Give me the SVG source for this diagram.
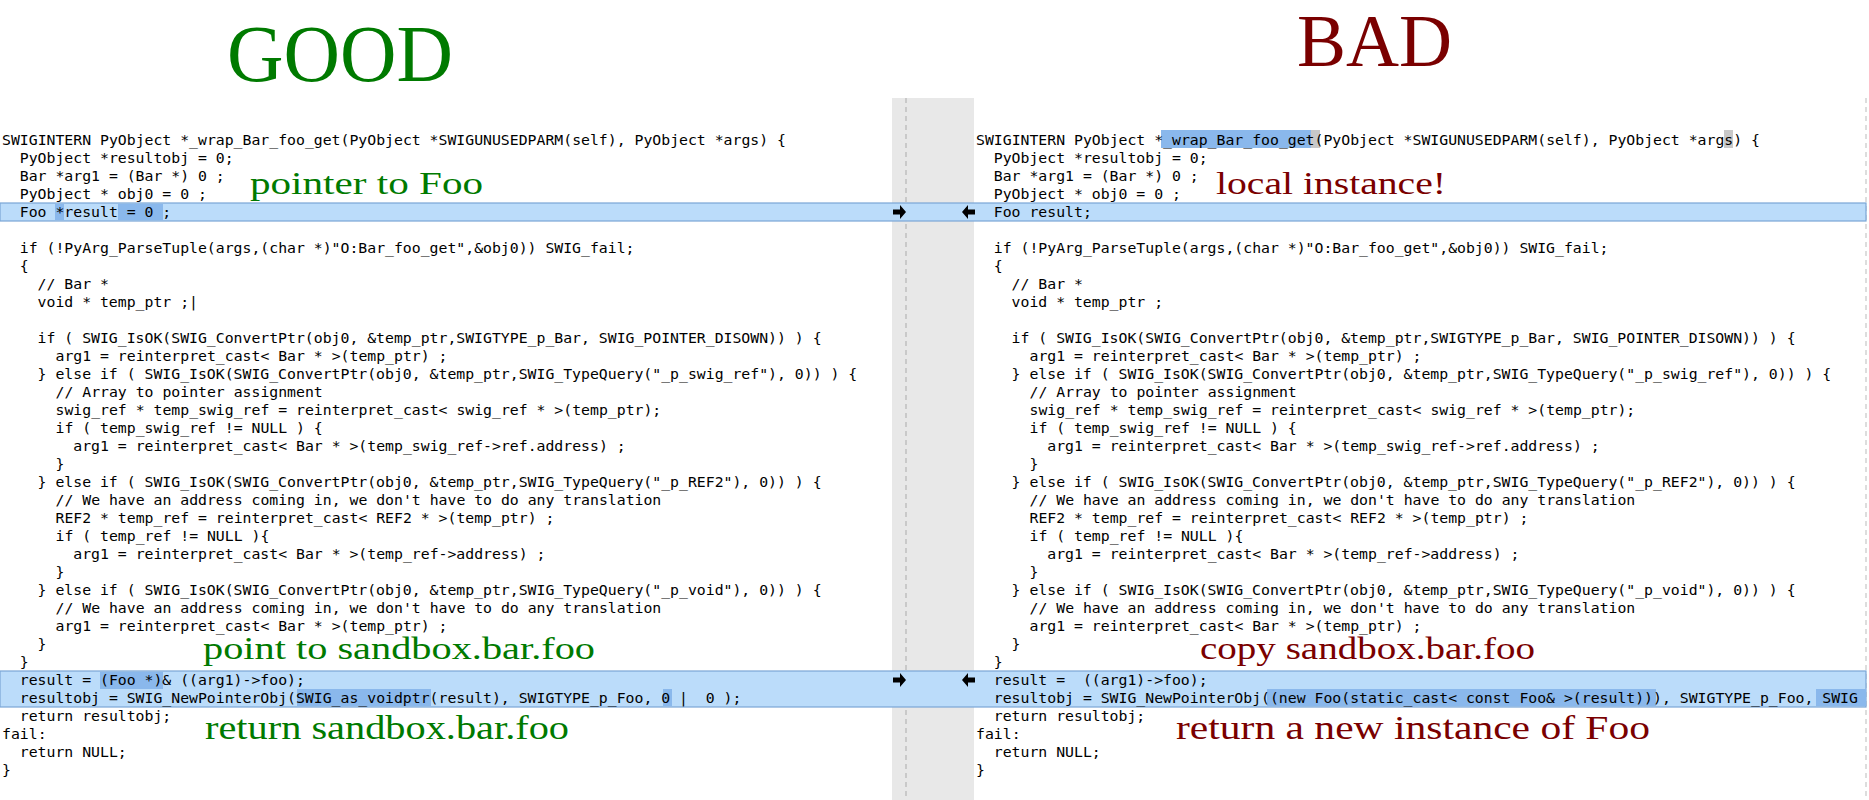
<svg xmlns="http://www.w3.org/2000/svg" width="1869" height="800" viewBox="0 0 1869 800">
<style>
.c{font-family:"DejaVu Sans Mono",monospace;font-size:14.8px;fill:#000}
.g{font-family:"Liberation Serif",serif;fill:#007a00}
.r{font-family:"Liberation Serif",serif;fill:#7a0000}
.band{fill:#bbdcfa;stroke:#7aa6d6;stroke-width:1.2}
.hl{fill:#8ab8ec}
.gr{fill:#c8c8c8}
</style>
<defs><clipPath id="cp"><rect x="974" y="0" width="891" height="800"/></clipPath>
<path id="ar" d="M0,-2.5 H7 V-7 L13,0 L7,7 V2.5 H0 Z" fill="#000"/></defs>
<rect width="1869" height="800" fill="#fff"/>
<rect x="892" y="98" width="82" height="702" fill="#e8e8e8"/>
<line x1="906" y1="98" x2="906" y2="800" stroke="#aaa" stroke-dasharray="5,4"/>
<line x1="1866" y1="98" x2="1866" y2="800" stroke="#bbb" stroke-dasharray="5,4"/>
<rect class="band" x="0" y="203" width="1866" height="18"/>
<rect class="band" x="0" y="671" width="1866" height="36"/>
<g id="highlights">
<rect class="hl" x="55" y="204" width="9" height="16"/>
<rect class="hl" x="118" y="204" width="45" height="16"/>
<rect class="hl" x="100" y="672" width="63" height="17"/>
<rect class="hl" x="297" y="689" width="134" height="17"/>
<rect class="hl" x="663" y="689" width="9" height="17"/>
<rect class="hl" x="1161" y="130" width="150" height="18"/>
<rect class="gr" x="1311" y="130" width="9" height="18"/>
<rect class="gr" x="1724" y="130" width="9" height="18"/>
<rect class="hl" x="1267" y="689" width="389" height="17"/>
<rect class="hl" x="1816" y="689" width="50" height="17"/>
</g>
<g id="connectors">
<use href="#ar" x="893" y="212"/><use href="#ar" transform="translate(975,212) scale(-1,1)"/>
<use href="#ar" x="893" y="680"/><use href="#ar" transform="translate(975,680) scale(-1,1)"/>
</g>
<g id="left-code" class="c">
<text x="2" y="145">SWIGINTERN PyObject *_wrap_Bar_foo_get(PyObject *SWIGUNUSEDPARM(self), PyObject *args) {</text>
<text x="19.8" y="163">PyObject *resultobj = 0;</text>
<text x="19.8" y="181">Bar *arg1 = (Bar *) 0 ;</text>
<text x="19.8" y="199">PyObject * obj0 = 0 ;</text>
<text x="19.8" y="217">Foo *result = 0 ;</text>
<text x="19.8" y="253">if (!PyArg_ParseTuple(args,(char *)"O:Bar_foo_get",&amp;obj0)) SWIG_fail;</text>
<text x="19.8" y="271">{</text>
<text x="37.6" y="289">// Bar *</text>
<text x="37.6" y="307">void * temp_ptr ;|</text>
<text x="37.6" y="343">if ( SWIG_IsOK(SWIG_ConvertPtr(obj0, &amp;temp_ptr,SWIGTYPE_p_Bar, SWIG_POINTER_DISOWN)) ) {</text>
<text x="55.5" y="361">arg1 = reinterpret_cast&lt; Bar * &gt;(temp_ptr) ;</text>
<text x="37.6" y="379">} else if ( SWIG_IsOK(SWIG_ConvertPtr(obj0, &amp;temp_ptr,SWIG_TypeQuery("_p_swig_ref"), 0)) ) {</text>
<text x="55.5" y="397">// Array to pointer assignment</text>
<text x="55.5" y="415">swig_ref * temp_swig_ref = reinterpret_cast&lt; swig_ref * &gt;(temp_ptr);</text>
<text x="55.5" y="433">if ( temp_swig_ref != NULL ) {</text>
<text x="73.3" y="451">arg1 = reinterpret_cast&lt; Bar * &gt;(temp_swig_ref-&gt;ref.address) ;</text>
<text x="55.5" y="469">}</text>
<text x="37.6" y="487">} else if ( SWIG_IsOK(SWIG_ConvertPtr(obj0, &amp;temp_ptr,SWIG_TypeQuery("_p_REF2"), 0)) ) {</text>
<text x="55.5" y="505">// We have an address coming in, we don't have to do any translation</text>
<text x="55.5" y="523">REF2 * temp_ref = reinterpret_cast&lt; REF2 * &gt;(temp_ptr) ;</text>
<text x="55.5" y="541">if ( temp_ref != NULL ){</text>
<text x="73.3" y="559">arg1 = reinterpret_cast&lt; Bar * &gt;(temp_ref-&gt;address) ;</text>
<text x="55.5" y="577">}</text>
<text x="37.6" y="595">} else if ( SWIG_IsOK(SWIG_ConvertPtr(obj0, &amp;temp_ptr,SWIG_TypeQuery("_p_void"), 0)) ) {</text>
<text x="55.5" y="613">// We have an address coming in, we don't have to do any translation</text>
<text x="55.5" y="631">arg1 = reinterpret_cast&lt; Bar * &gt;(temp_ptr) ;</text>
<text x="37.6" y="649">}</text>
<text x="19.8" y="667">}</text>
<text x="19.8" y="685">result = (Foo *)&amp; ((arg1)-&gt;foo);</text>
<text x="19.8" y="703">resultobj = SWIG_NewPointerObj(SWIG_as_voidptr(result), SWIGTYPE_p_Foo, 0 | &#160;0 );</text>
<text x="19.8" y="721">return resultobj;</text>
<text x="2" y="739">fail:</text>
<text x="19.8" y="757">return NULL;</text>
<text x="2" y="775">}</text>
</g>
<g id="right-code" class="c" clip-path="url(#cp)">
<text x="976" y="145">SWIGINTERN PyObject *_wrap_Bar_foo_get(PyObject *SWIGUNUSEDPARM(self), PyObject *args) {</text>
<text x="993.8" y="163">PyObject *resultobj = 0;</text>
<text x="993.8" y="181">Bar *arg1 = (Bar *) 0 ;</text>
<text x="993.8" y="199">PyObject * obj0 = 0 ;</text>
<text x="993.8" y="217">Foo result;</text>
<text x="993.8" y="253">if (!PyArg_ParseTuple(args,(char *)"O:Bar_foo_get",&amp;obj0)) SWIG_fail;</text>
<text x="993.8" y="271">{</text>
<text x="1011.6" y="289">// Bar *</text>
<text x="1011.6" y="307">void * temp_ptr ;</text>
<text x="1011.6" y="343">if ( SWIG_IsOK(SWIG_ConvertPtr(obj0, &amp;temp_ptr,SWIGTYPE_p_Bar, SWIG_POINTER_DISOWN)) ) {</text>
<text x="1029.5" y="361">arg1 = reinterpret_cast&lt; Bar * &gt;(temp_ptr) ;</text>
<text x="1011.6" y="379">} else if ( SWIG_IsOK(SWIG_ConvertPtr(obj0, &amp;temp_ptr,SWIG_TypeQuery("_p_swig_ref"), 0)) ) {</text>
<text x="1029.5" y="397">// Array to pointer assignment</text>
<text x="1029.5" y="415">swig_ref * temp_swig_ref = reinterpret_cast&lt; swig_ref * &gt;(temp_ptr);</text>
<text x="1029.5" y="433">if ( temp_swig_ref != NULL ) {</text>
<text x="1047.3" y="451">arg1 = reinterpret_cast&lt; Bar * &gt;(temp_swig_ref-&gt;ref.address) ;</text>
<text x="1029.5" y="469">}</text>
<text x="1011.6" y="487">} else if ( SWIG_IsOK(SWIG_ConvertPtr(obj0, &amp;temp_ptr,SWIG_TypeQuery("_p_REF2"), 0)) ) {</text>
<text x="1029.5" y="505">// We have an address coming in, we don't have to do any translation</text>
<text x="1029.5" y="523">REF2 * temp_ref = reinterpret_cast&lt; REF2 * &gt;(temp_ptr) ;</text>
<text x="1029.5" y="541">if ( temp_ref != NULL ){</text>
<text x="1047.3" y="559">arg1 = reinterpret_cast&lt; Bar * &gt;(temp_ref-&gt;address) ;</text>
<text x="1029.5" y="577">}</text>
<text x="1011.6" y="595">} else if ( SWIG_IsOK(SWIG_ConvertPtr(obj0, &amp;temp_ptr,SWIG_TypeQuery("_p_void"), 0)) ) {</text>
<text x="1029.5" y="613">// We have an address coming in, we don't have to do any translation</text>
<text x="1029.5" y="631">arg1 = reinterpret_cast&lt; Bar * &gt;(temp_ptr) ;</text>
<text x="1011.6" y="649">}</text>
<text x="993.8" y="667">}</text>
<text x="993.8" y="685">result = &#160;((arg1)-&gt;foo);</text>
<text x="993.8" y="703">resultobj = SWIG_NewPointerObj((new Foo(static_cast&lt; const Foo&amp; &gt;(result))), SWIGTYPE_p_Foo, SWIG</text>
<text x="993.8" y="721">return resultobj;</text>
<text x="976" y="739">fail:</text>
<text x="993.8" y="757">return NULL;</text>
<text x="976" y="775">}</text>
</g>
<g id="annotations">
<text class="g" x="227" y="81" font-size="80" textLength="226" lengthAdjust="spacingAndGlyphs">GOOD</text>
<text class="r" x="1297" y="66" font-size="74" textLength="155" lengthAdjust="spacingAndGlyphs">BAD</text>
<text class="g" x="250" y="194" font-size="32" textLength="233" lengthAdjust="spacingAndGlyphs">pointer to Foo</text>
<text class="r" x="1216" y="194" font-size="32" textLength="230" lengthAdjust="spacingAndGlyphs">local instance!</text>
<text class="g" x="203" y="659" font-size="32" textLength="392" lengthAdjust="spacingAndGlyphs">point to sandbox.bar.foo</text>
<text class="r" x="1200" y="659" font-size="32" textLength="335" lengthAdjust="spacingAndGlyphs">copy sandbox.bar.foo</text>
<text class="g" x="205" y="739" font-size="34" textLength="364" lengthAdjust="spacingAndGlyphs">return sandbox.bar.foo</text>
<text class="r" x="1176" y="739" font-size="34" textLength="474" lengthAdjust="spacingAndGlyphs">return a new instance of Foo</text>
</g>
</svg>
